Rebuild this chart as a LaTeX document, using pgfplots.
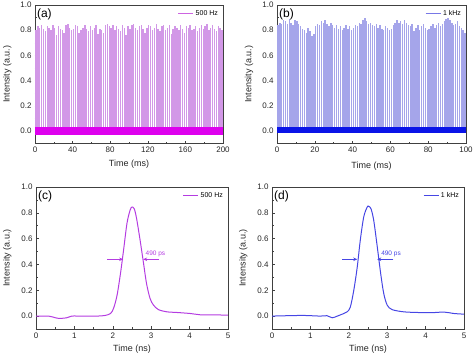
\documentclass[border=0pt]{standalone}
\usepackage{pgfplots}
\pgfplotsset{compat=1.18}
\usepackage{fontspec}
\setmainfont{Liberation Sans}
\usetikzlibrary{arrows.meta}
\definecolor{pulseA}{RGB}{210,152,231}
\definecolor{legA}{RGB}{205,100,225}
\definecolor{bandA}{RGB}{222,0,238}
\definecolor{pulseB}{RGB}{165,165,234}
\definecolor{legB}{RGB}{120,120,230}
\definecolor{bandB}{RGB}{10,20,232}
\definecolor{curveC}{RGB}{180,60,225}
\definecolor{curveD}{RGB}{70,70,228}
\pgfplotsset{
  panel/.style={
    scale only axis, anchor=south west,
    ymin=-0.1, ymax=1.0,
    ytick={0,0.2,0.4,0.6,0.8,1.0},
    minor x tick num=1, minor y tick num=1,
    tick align=inside, xtick pos=bottom, ytick pos=left,
    major tick length=3pt, minor tick length=1.8pt,
    axis line style={line width=0.6pt, black!75},
    every tick/.style={black!75, line width=0.5pt},
    tick label style={font=\fontsize{8}{9.5}\selectfont, black!85},
    label style={font=\fontsize{9}{10.5}\selectfont, black!85},
    /pgf/number format/assume math mode=true,
    yticklabel style={/pgf/number format/.cd, fixed, fixed zerofill, precision=1},
    ylabel={Intensity (a.u.)},
    legend style={draw=none, fill=none, at={(0.99,0.985)}, anchor=north east,
      font=\fontsize{7}{8}\selectfont, inner sep=1pt, row sep=0pt},
    legend cell align=left,
  },
}
\begin{document}
\begin{tikzpicture}
\path[use as bounding box] (0,0) rectangle (474pt,359pt);
% (a)
\begin{axis}[panel, at={(35pt,215.4pt)}, width=188pt, height=138.6pt,
  xmin=0, xmax=200, xtick={0,40,80,120,160,200},
  xlabel={Time (ms)},
  xlabel style={at={(axis description cs:0.5,-0.15)}, anchor=center},
  ylabel style={at={(axis description cs:-0.148,0.5)}, anchor=center}]
\addplot[ycomb, pulseA, line width=1.4pt, mark=none,
  legend image code/.code={\draw[legA, line width=0.9pt] (0pt,0pt) -- (15pt,0pt);}]
coordinates {
(1,0.80)(3,0.83)(5,0.82)(7,0.84)(9,0.81)(11,0.79)(13,0.83)(15,0.82)(17,0.80)(19,0.84)
(21,0.82)(23,0.76)(25,0.83)(27,0.81)(29,0.80)(31,0.78)(33,0.84)(35,0.85)(37,0.82)(39,0.80)
(41,0.81)(43,0.84)(45,0.83)(47,0.78)(49,0.80)(51,0.82)(53,0.84)(55,0.81)(57,0.79)(59,0.83)
(61,0.80)(63,0.82)(65,0.84)(67,0.77)(69,0.81)(71,0.80)(73,0.78)(75,0.84)(77,0.85)(79,0.83)
(81,0.82)(83,0.84)(85,0.80)(87,0.83)(89,0.81)(91,0.79)(93,0.84)(95,0.82)(97,0.76)(99,0.83)
(101,0.81)(103,0.84)(105,0.85)(107,0.82)(109,0.80)(111,0.83)(113,0.84)(115,0.81)(117,0.78)(119,0.82)
(121,0.84)(123,0.83)(125,0.80)(127,0.82)(129,0.85)(131,0.81)(133,0.79)(135,0.83)(137,0.84)(139,0.80)
(141,0.82)(143,0.84)(145,0.77)(147,0.81)(149,0.83)(151,0.82)(153,0.80)(155,0.84)(157,0.81)(159,0.78)
(161,0.83)(163,0.82)(165,0.84)(167,0.80)(169,0.81)(171,0.83)(173,0.79)(175,0.82)(177,0.84)(179,0.81)
(181,0.83)(183,0.85)(185,0.80)(187,0.82)(189,0.84)(191,0.81)(193,0.79)(195,0.83)(197,0.82)(199,0.80)
};
\addlegendentry{500 Hz}
\addplot[bandA, line width=8pt, line cap=butt, forget plot] coordinates {(0,0.003) (200,0.003)};
\node[anchor=north west, inner sep=0pt, font=\fontsize{12}{14}\selectfont]
  at (axis description cs:0.01,0.975) {(a)};
\end{axis}
% (b)
\begin{axis}[panel, at={(277pt,215.4pt)}, width=189pt, height=138.6pt,
  xmin=0, xmax=100, xtick={0,20,40,60,80,100},
  xlabel={Time (ms)},
  xlabel style={at={(axis description cs:0.5,-0.16)}, anchor=center},
  ylabel style={at={(axis description cs:-0.148,0.5)}, anchor=center}]
\addplot[ycomb, pulseB, line width=1.4pt, mark=none,
  legend image code/.code={\draw[legB, line width=0.9pt] (0pt,0pt) -- (15pt,0pt);}]
coordinates {
(0.5,0.84)(1.5,0.86)(2.5,0.85)(3.5,0.88)(4.5,0.87)(5.5,0.85)(6.5,0.89)(7.5,0.86)(8.5,0.84)(9.5,0.88)
(10.5,0.87)(11.5,0.85)(12.5,0.83)(13.5,0.81)(14.5,0.80)(15.5,0.78)(16.5,0.82)(17.5,0.79)(18.5,0.75)(19.5,0.77)
(20.5,0.83)(21.5,0.85)(22.5,0.84)(23.5,0.87)(24.5,0.86)(25.5,0.88)(26.5,0.85)(27.5,0.83)(28.5,0.86)(29.5,0.84)
(30.5,0.82)(31.5,0.84)(32.5,0.81)(33.5,0.83)(34.5,0.80)(35.5,0.82)(36.5,0.84)(37.5,0.81)(38.5,0.83)(39.5,0.80)
(40.5,0.82)(41.5,0.84)(42.5,0.83)(43.5,0.86)(44.5,0.85)(45.5,0.88)(46.5,0.90)(47.5,0.87)(48.5,0.85)(49.5,0.86)
(50.5,0.84)(51.5,0.83)(52.5,0.85)(53.5,0.82)(54.5,0.84)(55.5,0.81)(56.5,0.80)(57.5,0.83)(58.5,0.82)(59.5,0.80)
(60.5,0.81)(61.5,0.84)(62.5,0.86)(63.5,0.88)(64.5,0.86)(65.5,0.87)(66.5,0.85)(67.5,0.88)(68.5,0.86)(69.5,0.84)
(70.5,0.83)(71.5,0.85)(72.5,0.79)(73.5,0.82)(74.5,0.84)(75.5,0.80)(76.5,0.83)(77.5,0.85)(78.5,0.82)(79.5,0.80)
(80.5,0.81)(81.5,0.83)(82.5,0.85)(83.5,0.82)(84.5,0.84)(85.5,0.86)(86.5,0.83)(87.5,0.85)(88.5,0.87)(89.5,0.89)
(90.5,0.90)(91.5,0.88)(92.5,0.86)(93.5,0.84)(94.5,0.85)(95.5,0.87)(96.5,0.83)(97.5,0.82)(98.5,0.80)(99.5,0.78)
};
\addlegendentry{1 kHz}
\addplot[bandB, line width=6pt, line cap=butt, forget plot] coordinates {(0,0.006) (100,0.006)};
\node[anchor=north west, inner sep=0pt, font=\fontsize{12}{14}\selectfont]
  at (axis description cs:0.01,0.975) {(b)};
\end{axis}
% (c)
\begin{axis}[panel, at={(36pt,30pt)}, width=192pt, height=142pt,
  xmin=0, xmax=5, xtick={0,1,2,3,4,5},
  xlabel={Time (ns)},
  xlabel style={at={(axis description cs:0.5,-0.14)}, anchor=center},
  ylabel style={at={(axis description cs:-0.15,0.5)}, anchor=center}]
\addplot[curveC, line width=1pt, mark=none, smooth,
  legend image code/.code={\draw[curveC, line width=0.9pt] (0pt,0pt) -- (15pt,0pt);}]
coordinates {
(0,0.0)(0.33,0.0)(0.45,-0.008)(0.59,-0.018)(0.8,-0.013)(0.93,0.0)(1.2,0.0)(1.59,0.0)(1.8,0.005)
(1.94,0.02)(2.02,0.06)(2.11,0.16)(2.2,0.33)(2.28,0.51)(2.37,0.72)(2.45,0.82)(2.5,0.845)
(2.56,0.83)(2.62,0.755)(2.71,0.59)(2.8,0.41)(2.88,0.25)(2.97,0.137)(3.06,0.085)(3.19,0.05)
(3.41,0.033)(3.67,0.028)(4.02,0.02)(4.28,0.01)(4.6,0.009)(5,0.008)
};
\addlegendentry{500 Hz}
\draw[curveC, line width=0.7pt, -{Stealth[length=4pt,width=3.5pt]}] (axis cs:1.85,0.44) -- (axis cs:2.27,0.44);
\draw[curveC, line width=0.7pt, -{Stealth[length=4pt,width=3.5pt]}] (axis cs:3.2,0.44) -- (axis cs:2.79,0.44);
\node[curveC, anchor=south west, inner sep=0pt, font=\fontsize{6.5}{7.5}\selectfont] at (axis cs:2.85,0.455) {490 ps};
\node[anchor=north west, inner sep=0pt, font=\fontsize{12}{14}\selectfont]
  at (axis description cs:0.01,0.975) {(c)};
\end{axis}
% (d)
\begin{axis}[panel, at={(272pt,30pt)}, width=192pt, height=142pt,
  xmin=0, xmax=5, xtick={0,1,2,3,4,5},
  xlabel={Time (ns)},
  xlabel style={at={(axis description cs:0.5,-0.14)}, anchor=center},
  ylabel style={at={(axis description cs:-0.15,0.5)}, anchor=center}]
\addplot[curveD, line width=1pt, mark=none, smooth,
  legend image code/.code={\draw[curveD, line width=0.9pt] (0pt,0pt) -- (15pt,0pt);}]
coordinates {
(0,0.0)(0.4,0.003)(0.83,0.005)(1.26,0.0)(1.43,0.003)(1.57,-0.013)(1.7,0.0)(1.87,0.02)
(1.96,0.034)(2.04,0.07)(2.13,0.2)(2.22,0.38)(2.3,0.59)(2.39,0.77)(2.48,0.845)(2.52,0.85)
(2.58,0.83)(2.65,0.74)(2.74,0.54)(2.83,0.33)(2.91,0.175)(3.0,0.085)(3.13,0.05)(3.43,0.033)
(3.78,0.028)(4.13,0.026)(4.48,0.031)(4.74,0.02)(5,0.015)
};
\addlegendentry{1 kHz}
\draw[curveD, line width=0.7pt, -{Stealth[length=4pt,width=3.5pt]}] (axis cs:1.83,0.44) -- (axis cs:2.22,0.44);
\draw[curveD, line width=0.7pt, -{Stealth[length=4pt,width=3.5pt]}] (axis cs:3.16,0.44) -- (axis cs:2.74,0.44);
\node[curveD, anchor=south west, inner sep=0pt, font=\fontsize{6.5}{7.5}\selectfont] at (axis cs:2.84,0.455) {490 ps};
\node[anchor=north west, inner sep=0pt, font=\fontsize{12}{14}\selectfont]
  at (axis description cs:0.01,0.975) {(d)};
\end{axis}
\end{tikzpicture}
\end{document}
